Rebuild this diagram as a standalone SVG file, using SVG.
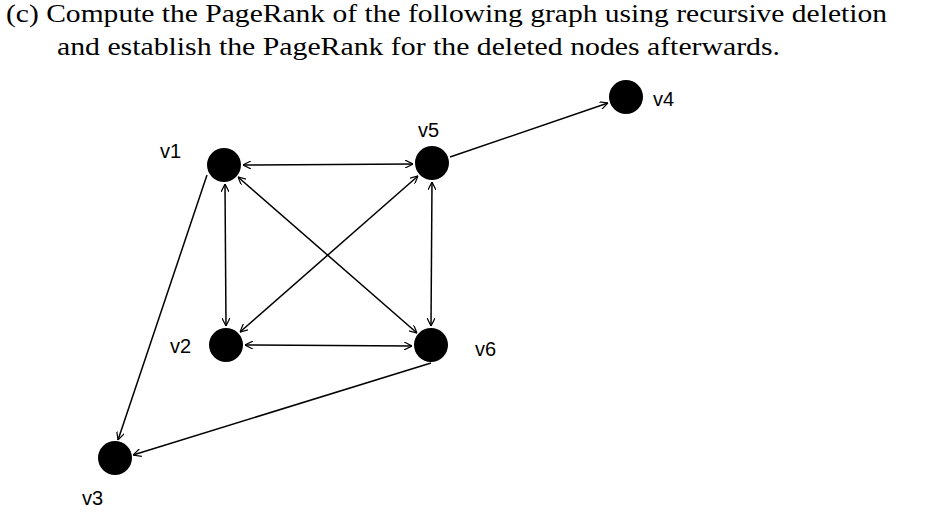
<svg xmlns="http://www.w3.org/2000/svg" width="936" height="512" viewBox="0 0 936 512">
<style>
.t{font-family:"Liberation Serif",serif;font-size:26px;fill:#000}
.l{font-family:"Liberation Sans",sans-serif;font-size:20px;fill:#000}
.n{fill:#000}
.e{stroke:#000;stroke-width:1.5;fill:none;marker-end:url(#a)}
.b{marker-start:url(#a)}
</style>
<defs><marker id="a" viewBox="0 0 10 10" refX="10" refY="5" markerWidth="8" markerHeight="8" markerUnits="userSpaceOnUse" orient="auto-start-reverse"><path d="M0,0 L10,5 L0,10" fill="none" stroke="#000" stroke-width="1.5"/></marker></defs>
<rect width="936" height="512" fill="#fff"/>
<text class="t" x="6" y="22" textLength="881" lengthAdjust="spacingAndGlyphs">(c) Compute the PageRank of the following graph using recursive deletion</text>
<text class="t" x="57" y="55" textLength="723" lengthAdjust="spacingAndGlyphs">and establish the PageRank for the deleted nodes afterwards.</text>
<g id="edges">
<line class="e b" x1="243" y1="165" x2="413" y2="164"/>
<line class="e b" x1="225" y1="184" x2="226" y2="326"/>
<line class="e b" x1="238" y1="177" x2="417" y2="333"/>
<line class="e b" x1="240" y1="332" x2="418" y2="176"/>
<line class="e b" x1="245" y1="345" x2="412" y2="346"/>
<line class="e b" x1="432" y1="182" x2="431" y2="326"/>
<line class="e" x1="450" y1="157" x2="608" y2="103"/>
<line class="e" x1="207" y1="175" x2="118" y2="440"/>
<line class="e" x1="431" y1="363" x2="133" y2="455"/>
</g>
<g id="v1"><ellipse class="n" cx="224" cy="165" rx="17" ry="17"/><text class="l" x="160" y="158">v1</text></g>
<g id="v5"><ellipse class="n" cx="432" cy="163" rx="17" ry="17"/><text class="l" x="418" y="137">v5</text></g>
<g id="v4"><ellipse class="n" cx="626" cy="97" rx="17" ry="17"/><text class="l" x="653" y="106">v4</text></g>
<g id="v2"><ellipse class="n" cx="226" cy="345" rx="17" ry="17"/><text class="l" x="170" y="353">v2</text></g>
<g id="v6"><ellipse class="n" cx="431" cy="345" rx="17" ry="17"/><text class="l" x="475" y="356">v6</text></g>
<g id="v3"><ellipse class="n" cx="115" cy="458" rx="17" ry="17"/><text class="l" x="82" y="505">v3</text></g>
</svg>
